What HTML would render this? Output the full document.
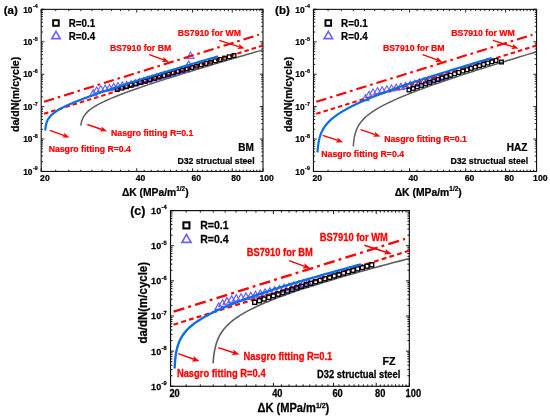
<!DOCTYPE html>
<html><head><meta charset="utf-8"><style>
html,body{margin:0;padding:0;background:#fff;}
svg{display:block;filter:blur(0.3px);}
text{font-family:'Liberation Sans',Arial,sans-serif;font-weight:bold;fill:#000;stroke:#000;stroke-width:0.22px;}
</style></head><body>
<svg width="550" height="417" viewBox="0 0 550 417">
<rect width="550" height="417" fill="#fff"/>
<g><rect x="41.2" y="9.37" width="221.80" height="162.08" fill="none" stroke="#111" stroke-width="1.1"/>
<path d="M41.2,171.45h3.2M263.0,171.45h-3.2M41.2,161.69h1.8M263.0,161.69h-1.8M41.2,155.98h1.8M263.0,155.98h-1.8M41.2,151.93h1.8M263.0,151.93h-1.8M41.2,148.79h1.8M263.0,148.79h-1.8M41.2,146.23h1.8M263.0,146.23h-1.8M41.2,144.06h1.8M263.0,144.06h-1.8M41.2,142.18h1.8M263.0,142.18h-1.8M41.2,140.52h1.8M263.0,140.52h-1.8M41.2,139.03h3.2M263.0,139.03h-3.2M41.2,129.28h1.8M263.0,129.28h-1.8M41.2,123.57h1.8M263.0,123.57h-1.8M41.2,119.52h1.8M263.0,119.52h-1.8M41.2,116.38h1.8M263.0,116.38h-1.8M41.2,113.81h1.8M263.0,113.81h-1.8M41.2,111.64h1.8M263.0,111.64h-1.8M41.2,109.76h1.8M263.0,109.76h-1.8M41.2,108.10h1.8M263.0,108.10h-1.8M41.2,106.62h3.2M263.0,106.62h-3.2M41.2,96.86h1.8M263.0,96.86h-1.8M41.2,91.15h1.8M263.0,91.15h-1.8M41.2,87.10h1.8M263.0,87.10h-1.8M41.2,83.96h1.8M263.0,83.96h-1.8M41.2,81.39h1.8M263.0,81.39h-1.8M41.2,79.22h1.8M263.0,79.22h-1.8M41.2,77.34h1.8M263.0,77.34h-1.8M41.2,75.69h1.8M263.0,75.69h-1.8M41.2,74.20h3.2M263.0,74.20h-3.2M41.2,64.44h1.8M263.0,64.44h-1.8M41.2,58.74h1.8M263.0,58.74h-1.8M41.2,54.69h1.8M263.0,54.69h-1.8M41.2,51.54h1.8M263.0,51.54h-1.8M41.2,48.98h1.8M263.0,48.98h-1.8M41.2,46.81h1.8M263.0,46.81h-1.8M41.2,44.93h1.8M263.0,44.93h-1.8M41.2,43.27h1.8M263.0,43.27h-1.8M41.2,41.79h3.2M263.0,41.79h-3.2M41.2,32.03h1.8M263.0,32.03h-1.8M41.2,26.32h1.8M263.0,26.32h-1.8M41.2,22.27h1.8M263.0,22.27h-1.8M41.2,19.13h1.8M263.0,19.13h-1.8M41.2,16.56h1.8M263.0,16.56h-1.8M41.2,14.39h1.8M263.0,14.39h-1.8M41.2,12.51h1.8M263.0,12.51h-1.8M41.2,10.85h1.8M263.0,10.85h-1.8M41.2,9.37h3.2M263.0,9.37h-3.2M41.2,9.37h3.2M263.0,9.37h-3.2M41.20,171.45v-3.2M41.20,9.37v3.2M55.72,171.45v-1.8M55.72,9.37v1.8M68.85,171.45v-1.8M68.85,9.37v1.8M80.85,171.45v-1.8M80.85,9.37v1.8M91.88,171.45v-1.8M91.88,9.37v1.8M102.09,171.45v-1.8M102.09,9.37v1.8M111.60,171.45v-1.8M111.60,9.37v1.8M120.49,171.45v-1.8M120.49,9.37v1.8M128.85,171.45v-1.8M128.85,9.37v1.8M136.72,171.45v-3.2M136.72,9.37v3.2M144.18,171.45v-1.8M144.18,9.37v1.8M151.24,171.45v-1.8M151.24,9.37v1.8M157.97,171.45v-1.8M157.97,9.37v1.8M164.38,171.45v-1.8M164.38,9.37v1.8M170.50,171.45v-1.8M170.50,9.37v1.8M176.37,171.45v-1.8M176.37,9.37v1.8M182.00,171.45v-1.8M182.00,9.37v1.8M187.40,171.45v-1.8M187.40,9.37v1.8M192.60,171.45v-3.2M192.60,9.37v3.2M197.61,171.45v-1.8M197.61,9.37v1.8M202.45,171.45v-1.8M202.45,9.37v1.8M207.12,171.45v-1.8M207.12,9.37v1.8M211.64,171.45v-1.8M211.64,9.37v1.8M216.02,171.45v-1.8M216.02,9.37v1.8M220.26,171.45v-1.8M220.26,9.37v1.8M224.37,171.45v-1.8M224.37,9.37v1.8M228.37,171.45v-1.8M228.37,9.37v1.8M232.25,171.45v-3.2M232.25,9.37v3.2M236.02,171.45v-1.8M236.02,9.37v1.8M239.70,171.45v-1.8M239.70,9.37v1.8M243.28,171.45v-1.8M243.28,9.37v1.8M246.77,171.45v-1.8M246.77,9.37v1.8M250.17,171.45v-1.8M250.17,9.37v1.8M253.49,171.45v-1.8M253.49,9.37v1.8M256.73,171.45v-1.8M256.73,9.37v1.8M259.90,171.45v-1.8M259.90,9.37v1.8M263.00,171.45v-3.2M263.00,9.37v3.2" stroke="#111" stroke-width="0.9" fill="none"/>
<text transform="translate(32.50,12.57) scale(1,1.09)" text-anchor="end" style="font-size:8.4px">10</text>
<text transform="translate(32.90,8.27) scale(1,1.09)" style="font-size:5.3px">-4</text>
<text transform="translate(32.50,44.99) scale(1,1.09)" text-anchor="end" style="font-size:8.4px">10</text>
<text transform="translate(32.90,40.69) scale(1,1.09)" style="font-size:5.3px">-5</text>
<text transform="translate(32.50,77.40) scale(1,1.09)" text-anchor="end" style="font-size:8.4px">10</text>
<text transform="translate(32.90,73.10) scale(1,1.09)" style="font-size:5.3px">-6</text>
<text transform="translate(32.50,109.82) scale(1,1.09)" text-anchor="end" style="font-size:8.4px">10</text>
<text transform="translate(32.90,105.52) scale(1,1.09)" style="font-size:5.3px">-7</text>
<text transform="translate(32.50,142.23) scale(1,1.09)" text-anchor="end" style="font-size:8.4px">10</text>
<text transform="translate(32.90,137.93) scale(1,1.09)" style="font-size:5.3px">-8</text>
<text transform="translate(32.50,174.65) scale(1,1.09)" text-anchor="end" style="font-size:8.4px">10</text>
<text transform="translate(32.90,170.35) scale(1,1.09)" style="font-size:5.3px">-9</text>
<text transform="translate(44.90,181.30) scale(1,1.09)" text-anchor="middle" style="font-size:8.6px">20</text>
<text transform="translate(140.42,181.30) scale(1,1.09)" text-anchor="middle" style="font-size:8.6px">40</text>
<text transform="translate(196.30,181.30) scale(1,1.09)" text-anchor="middle" style="font-size:8.6px">60</text>
<text transform="translate(235.95,181.30) scale(1,1.09)" text-anchor="middle" style="font-size:8.6px">80</text>
<text transform="translate(266.70,181.30) scale(1,1.09)" text-anchor="middle" style="font-size:8.6px">100</text>
<text transform="translate(155.30,195.50) scale(1,1.09)" text-anchor="middle" style="font-size:10.3px">&#916;K (MPa/m<tspan dy="-3.9" style="font-size:6.5px">1/2</tspan><tspan dy="3.9">)</tspan></text>
<text transform="translate(19.4,94.4) rotate(-90) scale(1,1.09)" text-anchor="middle" style="font-size:10.6px">da/dN(m/cycle)</text>
<text transform="translate(3.70,13.80) scale(1,1.0)" style="font-size:11.5px">(a)</text>
<rect x="53.15" y="20.20" width="5.6" height="5.6" fill="#fff" stroke="#000" stroke-width="1.9"/>
<text transform="translate(68.70,26.70) scale(1,1.09)" style="font-size:9.8px">R=0.1</text>
<path d="M56.00,31.35L60.20,38.62L51.80,38.62Z" fill="none" stroke="#6a62ff" stroke-width="1.6"/>
<text transform="translate(68.70,39.60) scale(1,1.09)" style="font-size:9.8px">R=0.4</text>
<path d="M80.80,125.54 L80.82,125.37 L80.89,124.89 L81.01,124.18 L81.17,123.31 L81.37,122.36 L81.63,121.38 L81.93,120.39 L82.27,119.42 L82.66,118.48 L83.10,117.56 L83.58,116.68 L84.11,115.82 L84.68,114.99 L85.30,114.18 L85.97,113.39 L86.68,112.62 L87.44,111.87 L88.24,111.13 L89.09,110.40 L89.99,109.69 L90.93,108.98 L91.91,108.28 L92.95,107.58 L94.03,106.89 L95.15,106.20 L96.32,105.52 L97.54,104.83 L98.80,104.15 L100.11,103.46 L101.47,102.78 L102.87,102.09 L104.32,101.40 L105.81,100.71 L107.35,100.02 L108.93,99.32 L110.56,98.62 L112.24,97.91 L113.96,97.20 L115.73,96.48 L117.54,95.76 L119.40,95.03 L121.31,94.30 L123.26,93.55 L125.26,92.81 L127.30,92.05 L129.39,91.29 L131.53,90.52 L133.71,89.74 L135.94,88.96 L138.21,88.17 L140.53,87.37 L142.90,86.56 L145.31,85.74 L147.76,84.91 L150.27,84.08 L152.82,83.24 L155.41,82.39 L158.05,81.53 L160.74,80.66 L163.47,79.78 L166.25,78.89 L169.07,77.99 L171.95,77.08 L174.86,76.17 L177.82,75.24 L180.83,74.30 L183.89,73.36 L186.99,72.40 L190.13,71.44 L193.32,70.46 L196.56,69.47 L199.85,68.48 L203.18,67.47 L206.55,66.46 L209.97,65.43 L213.44,64.39 L216.96,63.34 L220.51,62.28 L224.12,61.22 L227.77,60.14 L231.47,59.05 L235.21,57.94 L239.00,56.83 L242.84,55.71 L246.72,54.58 L250.64,53.43 L254.62,52.28 L258.64,51.11 L262.70,49.93" fill="none" stroke="#5e5e5e" stroke-width="1.5"/>
<path d="M93.30,89.66L96.80,95.72L89.80,95.72Z" fill="none" stroke="#6a62ff" stroke-width="1.15"/>
<path d="M96.75,86.94L100.25,93.01L93.25,93.01Z" fill="none" stroke="#6a62ff" stroke-width="1.15"/>
<path d="M100.77,85.58L104.27,91.64L97.27,91.64Z" fill="none" stroke="#6a62ff" stroke-width="1.15"/>
<path d="M105.13,85.13L108.63,91.19L101.63,91.19Z" fill="none" stroke="#6a62ff" stroke-width="1.15"/>
<path d="M109.45,84.51L112.95,90.57L105.95,90.57Z" fill="none" stroke="#6a62ff" stroke-width="1.15"/>
<path d="M113.68,83.35L117.18,89.41L110.18,89.41Z" fill="none" stroke="#6a62ff" stroke-width="1.15"/>
<path d="M117.96,82.44L121.46,88.51L114.46,88.51Z" fill="none" stroke="#6a62ff" stroke-width="1.15"/>
<path d="M122.32,81.91L125.82,87.97L118.82,87.97Z" fill="none" stroke="#6a62ff" stroke-width="1.15"/>
<path d="M126.66,81.31L130.16,87.37L123.16,87.37Z" fill="none" stroke="#6a62ff" stroke-width="1.15"/>
<path d="M130.99,80.57L134.49,86.63L127.49,86.63Z" fill="none" stroke="#6a62ff" stroke-width="1.15"/>
<path d="M135.27,79.64L138.77,85.70L131.77,85.70Z" fill="none" stroke="#6a62ff" stroke-width="1.15"/>
<path d="M139.50,78.47L143.00,84.53L136.00,84.53Z" fill="none" stroke="#6a62ff" stroke-width="1.15"/>
<path d="M143.72,77.29L147.22,83.35L140.22,83.35Z" fill="none" stroke="#6a62ff" stroke-width="1.15"/>
<path d="M147.95,76.12L151.45,82.18L144.45,82.18Z" fill="none" stroke="#6a62ff" stroke-width="1.15"/>
<path d="M152.18,74.95L155.68,81.01L148.68,81.01Z" fill="none" stroke="#6a62ff" stroke-width="1.15"/>
<path d="M156.41,73.77L159.91,79.83L152.91,79.83Z" fill="none" stroke="#6a62ff" stroke-width="1.15"/>
<path d="M160.63,72.60L164.13,78.66L157.13,78.66Z" fill="none" stroke="#6a62ff" stroke-width="1.15"/>
<path d="M164.86,71.43L168.36,77.49L161.36,77.49Z" fill="none" stroke="#6a62ff" stroke-width="1.15"/>
<path d="M169.09,70.25L172.59,76.31L165.59,76.31Z" fill="none" stroke="#6a62ff" stroke-width="1.15"/>
<path d="M173.32,69.08L176.82,75.14L169.82,75.14Z" fill="none" stroke="#6a62ff" stroke-width="1.15"/>
<path d="M177.54,67.91L181.04,73.97L174.04,73.97Z" fill="none" stroke="#6a62ff" stroke-width="1.15"/>
<path d="M181.77,66.73L185.27,72.79L178.27,72.79Z" fill="none" stroke="#6a62ff" stroke-width="1.15"/>
<path d="M186.00,65.56L189.50,71.62L182.50,71.62Z" fill="none" stroke="#6a62ff" stroke-width="1.15"/>
<path d="M190.50,52.26L194.00,58.32L187.00,58.32Z" fill="none" stroke="#6a62ff" stroke-width="1.15"/>
<path d="M188.70,60.96L192.20,67.02L185.20,67.02Z" fill="none" stroke="#6a62ff" stroke-width="1.15"/>
<path d="M44,113.8L262.7,45.6" stroke="#f00" stroke-width="2.0" fill="none" stroke-dasharray="4.5 3"/>
<rect x="115.25" y="87.61" width="3.7" height="3.7" fill="none" stroke="#000" stroke-width="1.3"/>
<rect x="119.93" y="86.21" width="3.7" height="3.7" fill="none" stroke="#000" stroke-width="1.3"/>
<rect x="124.60" y="84.82" width="3.7" height="3.7" fill="none" stroke="#000" stroke-width="1.3"/>
<rect x="129.28" y="83.43" width="3.7" height="3.7" fill="none" stroke="#000" stroke-width="1.3"/>
<rect x="133.95" y="82.05" width="3.7" height="3.7" fill="none" stroke="#000" stroke-width="1.3"/>
<rect x="138.63" y="80.66" width="3.7" height="3.7" fill="none" stroke="#000" stroke-width="1.3"/>
<rect x="143.31" y="79.28" width="3.7" height="3.7" fill="none" stroke="#000" stroke-width="1.3"/>
<rect x="147.98" y="77.90" width="3.7" height="3.7" fill="none" stroke="#000" stroke-width="1.3"/>
<rect x="152.66" y="76.53" width="3.7" height="3.7" fill="none" stroke="#000" stroke-width="1.3"/>
<rect x="157.33" y="75.16" width="3.7" height="3.7" fill="none" stroke="#000" stroke-width="1.3"/>
<rect x="162.01" y="73.79" width="3.7" height="3.7" fill="none" stroke="#000" stroke-width="1.3"/>
<rect x="166.69" y="72.43" width="3.7" height="3.7" fill="none" stroke="#000" stroke-width="1.3"/>
<rect x="171.36" y="71.06" width="3.7" height="3.7" fill="none" stroke="#000" stroke-width="1.3"/>
<rect x="176.04" y="69.70" width="3.7" height="3.7" fill="none" stroke="#000" stroke-width="1.3"/>
<rect x="180.71" y="68.35" width="3.7" height="3.7" fill="none" stroke="#000" stroke-width="1.3"/>
<rect x="185.39" y="67.00" width="3.7" height="3.7" fill="none" stroke="#000" stroke-width="1.3"/>
<rect x="190.07" y="65.65" width="3.7" height="3.7" fill="none" stroke="#000" stroke-width="1.3"/>
<rect x="194.74" y="64.30" width="3.7" height="3.7" fill="none" stroke="#000" stroke-width="1.3"/>
<rect x="199.42" y="62.95" width="3.7" height="3.7" fill="none" stroke="#000" stroke-width="1.3"/>
<rect x="204.09" y="61.61" width="3.7" height="3.7" fill="none" stroke="#000" stroke-width="1.3"/>
<rect x="208.77" y="60.27" width="3.7" height="3.7" fill="none" stroke="#000" stroke-width="1.3"/>
<rect x="213.45" y="58.94" width="3.7" height="3.7" fill="none" stroke="#000" stroke-width="1.3"/>
<rect x="218.12" y="57.61" width="3.7" height="3.7" fill="none" stroke="#000" stroke-width="1.3"/>
<rect x="222.80" y="56.28" width="3.7" height="3.7" fill="none" stroke="#000" stroke-width="1.3"/>
<rect x="227.47" y="54.95" width="3.7" height="3.7" fill="none" stroke="#000" stroke-width="1.3"/>
<rect x="232.15" y="53.63" width="3.7" height="3.7" fill="none" stroke="#000" stroke-width="1.3"/>
<path d="M45.30,130.45 L45.32,130.13 L45.39,129.27 L45.50,128.12 L45.65,126.86 L45.85,125.62 L46.08,124.44 L46.37,123.32 L46.70,122.28 L47.07,121.30 L47.48,120.37 L47.94,119.49 L48.44,118.66 L48.98,117.86 L49.57,117.09 L50.21,116.34 L50.88,115.62 L51.60,114.92 L52.36,114.23 L53.17,113.55 L54.02,112.89 L54.92,112.23 L55.85,111.58 L56.83,110.94 L57.86,110.30 L58.93,109.66 L60.04,109.03 L61.19,108.39 L62.39,107.76 L63.64,107.12 L64.92,106.49 L66.25,105.85 L67.63,105.21 L69.04,104.57 L70.50,103.92 L72.01,103.27 L73.56,102.61 L75.15,101.95 L76.78,101.28 L78.46,100.61 L80.18,99.94 L81.95,99.25 L83.76,98.56 L85.61,97.87 L87.51,97.16 L89.45,96.45 L91.43,95.74 L93.46,95.01 L95.53,94.28 L97.65,93.54 L99.81,92.79 L102.01,92.03 L104.25,91.27 L106.54,90.50 L108.88,89.72 L111.25,88.93 L113.67,88.13 L116.14,87.32 L118.64,86.50 L121.20,85.68 L123.79,84.84 L126.43,84.00 L129.11,83.15 L131.84,82.28 L134.60,81.41 L137.42,80.53 L140.27,79.64 L143.17,78.74 L146.12,77.83 L149.10,76.91 L152.13,75.98 L155.21,75.04 L158.33,74.09 L161.49,73.13 L164.69,72.16 L167.94,71.18 L171.23,70.19 L174.57,69.19 L177.95,68.18 L181.37,67.16 L184.84,66.13 L188.35,65.08 L191.90,64.03 L195.50,62.97 L199.14,61.89 L202.83,60.81 L206.55,59.72 L210.33,58.61 L214.14,57.50 L218.00,56.37" fill="none" stroke="#0a6ee6" stroke-width="2.2"/>
<path d="M44,101.8L259,34.7" stroke="#f00" stroke-width="2.1" fill="none" stroke-dasharray="10.4 3.9 2.6 4.0"/>
<text transform="translate(109.90,50.80) scale(1,1.09)" style="font-size:8.7px;fill:#f00;stroke:#f00">BS7910 for BM</text>
<text transform="translate(177.80,36.40) scale(1,1.09)" style="font-size:8.7px;fill:#f00;stroke:#f00">BS7910 for WM</text>
<path d="M149.30,54.60L163.84,59.91" stroke="#f00" stroke-width="1.4" fill="none"/><path d="M168.95,61.77L161.67,61.88L163.84,59.91L163.46,57.00Z" fill="#f00"/>
<path d="M219.20,40.40L239.48,46.89" stroke="#f00" stroke-width="1.4" fill="none"/><path d="M244.66,48.54L237.39,48.95L239.48,46.89L238.98,44.00Z" fill="#f00"/>
<text transform="translate(48.70,152.30) scale(1,1.09)" style="font-size:8.7px;fill:#f00;stroke:#f00">Nasgro fitting R=0.4</text>
<text transform="translate(111.10,136.00) scale(1,1.09)" style="font-size:8.7px;fill:#f00;stroke:#f00">Nasgro fitting R=0.1</text>
<path d="M49.80,130.30L64.44,135.62" stroke="#f00" stroke-width="1.4" fill="none"/><path d="M69.55,137.47L62.27,137.60L64.44,135.62L64.05,132.71Z" fill="#f00"/>
<path d="M87.30,124.50L101.91,129.50" stroke="#f00" stroke-width="1.4" fill="none"/><path d="M107.06,131.26L99.78,131.52L101.91,129.50L101.46,126.60Z" fill="#f00"/>
<text transform="translate(253.80,151.40) scale(1,1.0)" text-anchor="end" style="font-size:10px">BM</text>
<text transform="translate(254.60,164.00) scale(1,1.09)" text-anchor="end" style="font-size:8.7px">D32 structual steel</text></g>
<g transform="translate(272.01,0) scale(1.0059,1)"><rect x="41.2" y="9.37" width="221.80" height="162.08" fill="none" stroke="#111" stroke-width="1.1"/>
<path d="M41.2,171.45h3.2M263.0,171.45h-3.2M41.2,161.69h1.8M263.0,161.69h-1.8M41.2,155.98h1.8M263.0,155.98h-1.8M41.2,151.93h1.8M263.0,151.93h-1.8M41.2,148.79h1.8M263.0,148.79h-1.8M41.2,146.23h1.8M263.0,146.23h-1.8M41.2,144.06h1.8M263.0,144.06h-1.8M41.2,142.18h1.8M263.0,142.18h-1.8M41.2,140.52h1.8M263.0,140.52h-1.8M41.2,139.03h3.2M263.0,139.03h-3.2M41.2,129.28h1.8M263.0,129.28h-1.8M41.2,123.57h1.8M263.0,123.57h-1.8M41.2,119.52h1.8M263.0,119.52h-1.8M41.2,116.38h1.8M263.0,116.38h-1.8M41.2,113.81h1.8M263.0,113.81h-1.8M41.2,111.64h1.8M263.0,111.64h-1.8M41.2,109.76h1.8M263.0,109.76h-1.8M41.2,108.10h1.8M263.0,108.10h-1.8M41.2,106.62h3.2M263.0,106.62h-3.2M41.2,96.86h1.8M263.0,96.86h-1.8M41.2,91.15h1.8M263.0,91.15h-1.8M41.2,87.10h1.8M263.0,87.10h-1.8M41.2,83.96h1.8M263.0,83.96h-1.8M41.2,81.39h1.8M263.0,81.39h-1.8M41.2,79.22h1.8M263.0,79.22h-1.8M41.2,77.34h1.8M263.0,77.34h-1.8M41.2,75.69h1.8M263.0,75.69h-1.8M41.2,74.20h3.2M263.0,74.20h-3.2M41.2,64.44h1.8M263.0,64.44h-1.8M41.2,58.74h1.8M263.0,58.74h-1.8M41.2,54.69h1.8M263.0,54.69h-1.8M41.2,51.54h1.8M263.0,51.54h-1.8M41.2,48.98h1.8M263.0,48.98h-1.8M41.2,46.81h1.8M263.0,46.81h-1.8M41.2,44.93h1.8M263.0,44.93h-1.8M41.2,43.27h1.8M263.0,43.27h-1.8M41.2,41.79h3.2M263.0,41.79h-3.2M41.2,32.03h1.8M263.0,32.03h-1.8M41.2,26.32h1.8M263.0,26.32h-1.8M41.2,22.27h1.8M263.0,22.27h-1.8M41.2,19.13h1.8M263.0,19.13h-1.8M41.2,16.56h1.8M263.0,16.56h-1.8M41.2,14.39h1.8M263.0,14.39h-1.8M41.2,12.51h1.8M263.0,12.51h-1.8M41.2,10.85h1.8M263.0,10.85h-1.8M41.2,9.37h3.2M263.0,9.37h-3.2M41.2,9.37h3.2M263.0,9.37h-3.2M41.20,171.45v-3.2M41.20,9.37v3.2M55.72,171.45v-1.8M55.72,9.37v1.8M68.85,171.45v-1.8M68.85,9.37v1.8M80.85,171.45v-1.8M80.85,9.37v1.8M91.88,171.45v-1.8M91.88,9.37v1.8M102.09,171.45v-1.8M102.09,9.37v1.8M111.60,171.45v-1.8M111.60,9.37v1.8M120.49,171.45v-1.8M120.49,9.37v1.8M128.85,171.45v-1.8M128.85,9.37v1.8M136.72,171.45v-3.2M136.72,9.37v3.2M144.18,171.45v-1.8M144.18,9.37v1.8M151.24,171.45v-1.8M151.24,9.37v1.8M157.97,171.45v-1.8M157.97,9.37v1.8M164.38,171.45v-1.8M164.38,9.37v1.8M170.50,171.45v-1.8M170.50,9.37v1.8M176.37,171.45v-1.8M176.37,9.37v1.8M182.00,171.45v-1.8M182.00,9.37v1.8M187.40,171.45v-1.8M187.40,9.37v1.8M192.60,171.45v-3.2M192.60,9.37v3.2M197.61,171.45v-1.8M197.61,9.37v1.8M202.45,171.45v-1.8M202.45,9.37v1.8M207.12,171.45v-1.8M207.12,9.37v1.8M211.64,171.45v-1.8M211.64,9.37v1.8M216.02,171.45v-1.8M216.02,9.37v1.8M220.26,171.45v-1.8M220.26,9.37v1.8M224.37,171.45v-1.8M224.37,9.37v1.8M228.37,171.45v-1.8M228.37,9.37v1.8M232.25,171.45v-3.2M232.25,9.37v3.2M236.02,171.45v-1.8M236.02,9.37v1.8M239.70,171.45v-1.8M239.70,9.37v1.8M243.28,171.45v-1.8M243.28,9.37v1.8M246.77,171.45v-1.8M246.77,9.37v1.8M250.17,171.45v-1.8M250.17,9.37v1.8M253.49,171.45v-1.8M253.49,9.37v1.8M256.73,171.45v-1.8M256.73,9.37v1.8M259.90,171.45v-1.8M259.90,9.37v1.8M263.00,171.45v-3.2M263.00,9.37v3.2" stroke="#111" stroke-width="0.9" fill="none"/>
<text transform="translate(32.50,12.57) scale(1,1.09)" text-anchor="end" style="font-size:8.4px">10</text>
<text transform="translate(32.90,8.27) scale(1,1.09)" style="font-size:5.3px">-4</text>
<text transform="translate(32.50,44.99) scale(1,1.09)" text-anchor="end" style="font-size:8.4px">10</text>
<text transform="translate(32.90,40.69) scale(1,1.09)" style="font-size:5.3px">-5</text>
<text transform="translate(32.50,77.40) scale(1,1.09)" text-anchor="end" style="font-size:8.4px">10</text>
<text transform="translate(32.90,73.10) scale(1,1.09)" style="font-size:5.3px">-6</text>
<text transform="translate(32.50,109.82) scale(1,1.09)" text-anchor="end" style="font-size:8.4px">10</text>
<text transform="translate(32.90,105.52) scale(1,1.09)" style="font-size:5.3px">-7</text>
<text transform="translate(32.50,142.23) scale(1,1.09)" text-anchor="end" style="font-size:8.4px">10</text>
<text transform="translate(32.90,137.93) scale(1,1.09)" style="font-size:5.3px">-8</text>
<text transform="translate(32.50,174.65) scale(1,1.09)" text-anchor="end" style="font-size:8.4px">10</text>
<text transform="translate(32.90,170.35) scale(1,1.09)" style="font-size:5.3px">-9</text>
<text transform="translate(44.90,181.30) scale(1,1.09)" text-anchor="middle" style="font-size:8.6px">20</text>
<text transform="translate(140.42,181.30) scale(1,1.09)" text-anchor="middle" style="font-size:8.6px">40</text>
<text transform="translate(196.30,181.30) scale(1,1.09)" text-anchor="middle" style="font-size:8.6px">60</text>
<text transform="translate(235.95,181.30) scale(1,1.09)" text-anchor="middle" style="font-size:8.6px">80</text>
<text transform="translate(266.70,181.30) scale(1,1.09)" text-anchor="middle" style="font-size:8.6px">100</text>
<text transform="translate(155.30,195.50) scale(1,1.09)" text-anchor="middle" style="font-size:10.3px">&#916;K (MPa/m<tspan dy="-3.9" style="font-size:6.5px">1/2</tspan><tspan dy="3.9">)</tspan></text>
<text transform="translate(19.4,94.4) rotate(-90) scale(1,1.09)" text-anchor="middle" style="font-size:10.6px">da/dN(m/cycle)</text>
<text transform="translate(3.07,13.80) scale(1,1.0)" style="font-size:11.5px">(b)</text>
<rect x="53.15" y="20.20" width="5.6" height="5.6" fill="#fff" stroke="#000" stroke-width="1.9"/>
<text transform="translate(68.70,26.70) scale(1,1.09)" style="font-size:9.8px">R=0.1</text>
<path d="M56.00,31.35L60.20,38.62L51.80,38.62Z" fill="none" stroke="#6a62ff" stroke-width="1.6"/>
<text transform="translate(68.70,39.60) scale(1,1.09)" style="font-size:9.8px">R=0.4</text>
<path d="M80.81,146.44 L80.84,146.10 L80.90,145.16 L81.02,143.78 L81.18,142.15 L81.39,140.42 L81.64,138.67 L81.94,136.96 L82.28,135.31 L82.67,133.73 L83.11,132.22 L83.59,130.79 L84.12,129.42 L84.69,128.11 L85.31,126.85 L85.97,125.64 L86.68,124.47 L87.44,123.35 L88.24,122.25 L89.09,121.19 L89.99,120.15 L90.93,119.14 L91.91,118.15 L92.94,117.17 L94.02,116.21 L95.14,115.27 L96.31,114.34 L97.53,113.42 L98.79,112.51 L100.10,111.61 L101.45,110.72 L102.85,109.83 L104.29,108.94 L105.78,108.06 L107.32,107.19 L108.90,106.31 L110.53,105.44 L112.20,104.57 L113.92,103.69 L115.69,102.82 L117.50,101.95 L119.36,101.07 L121.26,100.19 L123.21,99.31 L125.21,98.43 L127.25,97.55 L129.33,96.66 L131.47,95.76 L133.64,94.87 L135.87,93.96 L138.14,93.06 L140.45,92.15 L142.82,91.23 L145.22,90.31 L147.68,89.38 L150.18,88.44 L152.72,87.50 L155.31,86.56 L157.95,85.60 L160.63,84.64 L163.36,83.67 L166.14,82.70 L168.96,81.71 L171.82,80.73 L174.73,79.73 L177.69,78.72 L180.70,77.71 L183.75,76.69 L186.84,75.66 L189.98,74.62 L193.17,73.57 L196.40,72.52 L199.68,71.46 L203.01,70.38 L206.38,69.30 L209.79,68.21 L213.26,67.11 L216.77,66.00 L220.32,64.89 L223.92,63.76 L227.57,62.62 L231.26,61.48 L234.99,60.32 L238.78,59.16 L242.61,57.98 L246.48,56.80 L250.40,55.61 L254.37,54.40 L258.38,53.19 L262.44,51.96" fill="none" stroke="#5e5e5e" stroke-width="1.5"/>
<path d="M92.94,94.56L96.44,100.62L89.44,100.62Z" fill="none" stroke="#6a62ff" stroke-width="1.15"/>
<path d="M96.45,91.39L99.95,97.46L92.95,97.46Z" fill="none" stroke="#6a62ff" stroke-width="1.15"/>
<path d="M100.44,88.97L103.94,95.04L96.94,95.04Z" fill="none" stroke="#6a62ff" stroke-width="1.15"/>
<path d="M104.90,87.55L108.40,93.61L101.40,93.61Z" fill="none" stroke="#6a62ff" stroke-width="1.15"/>
<path d="M109.55,86.69L113.05,92.75L106.05,92.75Z" fill="none" stroke="#6a62ff" stroke-width="1.15"/>
<path d="M114.19,85.83L117.69,91.89L110.69,91.89Z" fill="none" stroke="#6a62ff" stroke-width="1.15"/>
<path d="M118.83,84.97L122.33,91.04L115.33,91.04Z" fill="none" stroke="#6a62ff" stroke-width="1.15"/>
<path d="M123.48,84.12L126.98,90.18L119.98,90.18Z" fill="none" stroke="#6a62ff" stroke-width="1.15"/>
<path d="M128.12,83.26L131.62,89.32L124.62,89.32Z" fill="none" stroke="#6a62ff" stroke-width="1.15"/>
<path d="M132.75,82.35L136.25,88.41L129.25,88.41Z" fill="none" stroke="#6a62ff" stroke-width="1.15"/>
<path d="M137.33,81.19L140.83,87.25L133.83,87.25Z" fill="none" stroke="#6a62ff" stroke-width="1.15"/>
<path d="M141.91,80.04L145.41,86.10L138.41,86.10Z" fill="none" stroke="#6a62ff" stroke-width="1.15"/>
<path d="M146.49,78.88L149.99,84.95L142.99,84.95Z" fill="none" stroke="#6a62ff" stroke-width="1.15"/>
<path d="M151.07,77.73L154.57,83.79L147.57,83.79Z" fill="none" stroke="#6a62ff" stroke-width="1.15"/>
<path d="M155.65,76.58L159.15,82.64L152.15,82.64Z" fill="none" stroke="#6a62ff" stroke-width="1.15"/>
<path d="M160.23,75.42L163.73,81.48L156.73,81.48Z" fill="none" stroke="#6a62ff" stroke-width="1.15"/>
<path d="M164.81,74.27L168.31,80.33L161.31,80.33Z" fill="none" stroke="#6a62ff" stroke-width="1.15"/>
<path d="M169.38,73.11L172.88,79.17L165.88,79.17Z" fill="none" stroke="#6a62ff" stroke-width="1.15"/>
<path d="M173.96,71.96L177.46,78.02L170.46,78.02Z" fill="none" stroke="#6a62ff" stroke-width="1.15"/>
<path d="M44,113.8L262.7,45.6" stroke="#f00" stroke-width="2.0" fill="none" stroke-dasharray="4.5 3"/>
<rect x="134.34" y="88.08" width="3.7" height="3.7" fill="none" stroke="#000" stroke-width="1.3"/>
<rect x="138.46" y="86.56" width="3.7" height="3.7" fill="none" stroke="#000" stroke-width="1.3"/>
<rect x="142.57" y="85.05" width="3.7" height="3.7" fill="none" stroke="#000" stroke-width="1.3"/>
<rect x="146.69" y="83.55" width="3.7" height="3.7" fill="none" stroke="#000" stroke-width="1.3"/>
<rect x="150.81" y="82.07" width="3.7" height="3.7" fill="none" stroke="#000" stroke-width="1.3"/>
<rect x="154.93" y="80.59" width="3.7" height="3.7" fill="none" stroke="#000" stroke-width="1.3"/>
<rect x="159.05" y="79.13" width="3.7" height="3.7" fill="none" stroke="#000" stroke-width="1.3"/>
<rect x="163.17" y="77.68" width="3.7" height="3.7" fill="none" stroke="#000" stroke-width="1.3"/>
<rect x="167.28" y="76.24" width="3.7" height="3.7" fill="none" stroke="#000" stroke-width="1.3"/>
<rect x="171.40" y="74.82" width="3.7" height="3.7" fill="none" stroke="#000" stroke-width="1.3"/>
<rect x="175.52" y="73.40" width="3.7" height="3.7" fill="none" stroke="#000" stroke-width="1.3"/>
<rect x="179.64" y="72.00" width="3.7" height="3.7" fill="none" stroke="#000" stroke-width="1.3"/>
<rect x="183.76" y="70.61" width="3.7" height="3.7" fill="none" stroke="#000" stroke-width="1.3"/>
<rect x="187.88" y="69.23" width="3.7" height="3.7" fill="none" stroke="#000" stroke-width="1.3"/>
<rect x="192.00" y="67.86" width="3.7" height="3.7" fill="none" stroke="#000" stroke-width="1.3"/>
<rect x="196.11" y="66.51" width="3.7" height="3.7" fill="none" stroke="#000" stroke-width="1.3"/>
<rect x="200.23" y="65.17" width="3.7" height="3.7" fill="none" stroke="#000" stroke-width="1.3"/>
<rect x="204.35" y="63.83" width="3.7" height="3.7" fill="none" stroke="#000" stroke-width="1.3"/>
<rect x="208.47" y="62.52" width="3.7" height="3.7" fill="none" stroke="#000" stroke-width="1.3"/>
<rect x="212.59" y="61.21" width="3.7" height="3.7" fill="none" stroke="#000" stroke-width="1.3"/>
<rect x="216.71" y="59.91" width="3.7" height="3.7" fill="none" stroke="#000" stroke-width="1.3"/>
<rect x="220.83" y="58.63" width="3.7" height="3.7" fill="none" stroke="#000" stroke-width="1.3"/>
<rect x="226.29" y="60.15" width="3.7" height="3.7" fill="none" stroke="#000" stroke-width="1.3"/>
<path d="M45.22,152.45 L45.25,152.11 L45.31,151.14 L45.42,149.71 L45.57,148.02 L45.77,146.19 L46.01,144.34 L46.30,142.51 L46.62,140.75 L47.00,139.06 L47.41,137.44 L47.87,135.90 L48.37,134.43 L48.92,133.02 L49.51,131.67 L50.15,130.38 L50.82,129.13 L51.55,127.93 L52.31,126.76 L53.12,125.64 L53.97,124.54 L54.87,123.47 L55.81,122.42 L56.80,121.40 L57.82,120.40 L58.90,119.42 L60.01,118.45 L61.17,117.50 L62.37,116.55 L63.62,115.63 L64.91,114.71 L66.25,113.79 L67.62,112.89 L69.05,112.00 L70.51,111.10 L72.02,110.22 L73.57,109.34 L75.17,108.46 L76.81,107.58 L78.50,106.71 L80.22,105.83 L82.00,104.96 L83.81,104.09 L85.67,103.21 L87.57,102.34 L89.52,101.47 L91.51,100.59 L93.55,99.71 L95.62,98.83 L97.75,97.95 L99.91,97.06 L102.12,96.17 L104.38,95.28 L106.67,94.38 L109.01,93.48 L111.40,92.58 L113.83,91.67 L116.30,90.75 L118.81,89.83 L121.37,88.91 L123.98,87.98 L126.62,87.04 L129.31,86.10 L132.05,85.15 L134.83,84.20 L137.65,83.24 L140.51,82.27 L143.42,81.30 L146.38,80.32 L149.37,79.33 L152.41,78.34 L155.50,77.34 L158.63,76.33 L161.80,75.32 L165.01,74.30 L168.27,73.27 L171.58,72.23 L174.92,71.19 L178.32,70.13 L181.75,69.07 L185.23,68.01 L188.75,66.93 L192.32,65.84 L195.93,64.75 L199.58,63.65 L203.28,62.54 L207.02,61.42 L210.80,60.30 L214.63,59.16 L218.50,58.02" fill="none" stroke="#0a6ee6" stroke-width="2.2"/>
<path d="M44,101.8L259,34.7" stroke="#f00" stroke-width="2.1" fill="none" stroke-dasharray="10.4 3.9 2.6 4.0"/>
<text transform="translate(110.30,50.80) scale(1,1.09)" style="font-size:8.7px;fill:#f00;stroke:#f00">BS7910 for BM</text>
<text transform="translate(178.20,36.40) scale(1,1.09)" style="font-size:8.7px;fill:#f00;stroke:#f00">BS7910 for WM</text>
<path d="M149.70,54.60L164.24,59.91" stroke="#f00" stroke-width="1.4" fill="none"/><path d="M169.35,61.77L162.07,61.88L164.24,59.91L163.86,57.00Z" fill="#f00"/>
<path d="M219.60,40.40L239.88,46.89" stroke="#f00" stroke-width="1.4" fill="none"/><path d="M245.06,48.54L237.79,48.95L239.88,46.89L239.38,44.00Z" fill="#f00"/>
<text transform="translate(49.00,157.30) scale(1,1.09)" style="font-size:8.7px;fill:#f00;stroke:#f00">Nasgro fitting R=0.4</text>
<text transform="translate(111.53,142.00) scale(1,1.09)" style="font-size:8.7px;fill:#f00;stroke:#f00">Nasgro fitting R=0.1</text>
<path d="M50.39,135.30L65.48,140.41" stroke="#f00" stroke-width="1.4" fill="none"/><path d="M70.64,142.16L63.36,142.44L65.48,140.41L65.03,137.51Z" fill="#f00"/>
<path d="M88.07,129.60L102.68,134.68" stroke="#f00" stroke-width="1.4" fill="none"/><path d="M107.81,136.46L100.54,136.69L102.68,134.68L102.24,131.77Z" fill="#f00"/>
<text transform="translate(253.80,151.40) scale(1,1.0)" text-anchor="end" style="font-size:10px">HAZ</text>
<text transform="translate(254.60,164.00) scale(1,1.09)" text-anchor="end" style="font-size:8.7px">D32 structual steel</text></g>
<g transform="translate(126.19,200.44) scale(1.0766,1.084)"><rect x="41.2" y="9.37" width="221.80" height="162.08" fill="none" stroke="#111" stroke-width="1.1"/>
<path d="M41.2,171.45h3.2M263.0,171.45h-3.2M41.2,161.69h1.8M263.0,161.69h-1.8M41.2,155.98h1.8M263.0,155.98h-1.8M41.2,151.93h1.8M263.0,151.93h-1.8M41.2,148.79h1.8M263.0,148.79h-1.8M41.2,146.23h1.8M263.0,146.23h-1.8M41.2,144.06h1.8M263.0,144.06h-1.8M41.2,142.18h1.8M263.0,142.18h-1.8M41.2,140.52h1.8M263.0,140.52h-1.8M41.2,139.03h3.2M263.0,139.03h-3.2M41.2,129.28h1.8M263.0,129.28h-1.8M41.2,123.57h1.8M263.0,123.57h-1.8M41.2,119.52h1.8M263.0,119.52h-1.8M41.2,116.38h1.8M263.0,116.38h-1.8M41.2,113.81h1.8M263.0,113.81h-1.8M41.2,111.64h1.8M263.0,111.64h-1.8M41.2,109.76h1.8M263.0,109.76h-1.8M41.2,108.10h1.8M263.0,108.10h-1.8M41.2,106.62h3.2M263.0,106.62h-3.2M41.2,96.86h1.8M263.0,96.86h-1.8M41.2,91.15h1.8M263.0,91.15h-1.8M41.2,87.10h1.8M263.0,87.10h-1.8M41.2,83.96h1.8M263.0,83.96h-1.8M41.2,81.39h1.8M263.0,81.39h-1.8M41.2,79.22h1.8M263.0,79.22h-1.8M41.2,77.34h1.8M263.0,77.34h-1.8M41.2,75.69h1.8M263.0,75.69h-1.8M41.2,74.20h3.2M263.0,74.20h-3.2M41.2,64.44h1.8M263.0,64.44h-1.8M41.2,58.74h1.8M263.0,58.74h-1.8M41.2,54.69h1.8M263.0,54.69h-1.8M41.2,51.54h1.8M263.0,51.54h-1.8M41.2,48.98h1.8M263.0,48.98h-1.8M41.2,46.81h1.8M263.0,46.81h-1.8M41.2,44.93h1.8M263.0,44.93h-1.8M41.2,43.27h1.8M263.0,43.27h-1.8M41.2,41.79h3.2M263.0,41.79h-3.2M41.2,32.03h1.8M263.0,32.03h-1.8M41.2,26.32h1.8M263.0,26.32h-1.8M41.2,22.27h1.8M263.0,22.27h-1.8M41.2,19.13h1.8M263.0,19.13h-1.8M41.2,16.56h1.8M263.0,16.56h-1.8M41.2,14.39h1.8M263.0,14.39h-1.8M41.2,12.51h1.8M263.0,12.51h-1.8M41.2,10.85h1.8M263.0,10.85h-1.8M41.2,9.37h3.2M263.0,9.37h-3.2M41.2,9.37h3.2M263.0,9.37h-3.2M41.20,171.45v-3.2M41.20,9.37v3.2M55.72,171.45v-1.8M55.72,9.37v1.8M68.85,171.45v-1.8M68.85,9.37v1.8M80.85,171.45v-1.8M80.85,9.37v1.8M91.88,171.45v-1.8M91.88,9.37v1.8M102.09,171.45v-1.8M102.09,9.37v1.8M111.60,171.45v-1.8M111.60,9.37v1.8M120.49,171.45v-1.8M120.49,9.37v1.8M128.85,171.45v-1.8M128.85,9.37v1.8M136.72,171.45v-3.2M136.72,9.37v3.2M144.18,171.45v-1.8M144.18,9.37v1.8M151.24,171.45v-1.8M151.24,9.37v1.8M157.97,171.45v-1.8M157.97,9.37v1.8M164.38,171.45v-1.8M164.38,9.37v1.8M170.50,171.45v-1.8M170.50,9.37v1.8M176.37,171.45v-1.8M176.37,9.37v1.8M182.00,171.45v-1.8M182.00,9.37v1.8M187.40,171.45v-1.8M187.40,9.37v1.8M192.60,171.45v-3.2M192.60,9.37v3.2M197.61,171.45v-1.8M197.61,9.37v1.8M202.45,171.45v-1.8M202.45,9.37v1.8M207.12,171.45v-1.8M207.12,9.37v1.8M211.64,171.45v-1.8M211.64,9.37v1.8M216.02,171.45v-1.8M216.02,9.37v1.8M220.26,171.45v-1.8M220.26,9.37v1.8M224.37,171.45v-1.8M224.37,9.37v1.8M228.37,171.45v-1.8M228.37,9.37v1.8M232.25,171.45v-3.2M232.25,9.37v3.2M236.02,171.45v-1.8M236.02,9.37v1.8M239.70,171.45v-1.8M239.70,9.37v1.8M243.28,171.45v-1.8M243.28,9.37v1.8M246.77,171.45v-1.8M246.77,9.37v1.8M250.17,171.45v-1.8M250.17,9.37v1.8M253.49,171.45v-1.8M253.49,9.37v1.8M256.73,171.45v-1.8M256.73,9.37v1.8M259.90,171.45v-1.8M259.90,9.37v1.8M263.00,171.45v-3.2M263.00,9.37v3.2" stroke="#111" stroke-width="0.9" fill="none"/>
<text transform="translate(32.50,12.57) scale(1,1.09)" text-anchor="end" style="font-size:8.4px">10</text>
<text transform="translate(32.90,8.27) scale(1,1.09)" style="font-size:5.3px">-4</text>
<text transform="translate(32.50,44.99) scale(1,1.09)" text-anchor="end" style="font-size:8.4px">10</text>
<text transform="translate(32.90,40.69) scale(1,1.09)" style="font-size:5.3px">-5</text>
<text transform="translate(32.50,77.40) scale(1,1.09)" text-anchor="end" style="font-size:8.4px">10</text>
<text transform="translate(32.90,73.10) scale(1,1.09)" style="font-size:5.3px">-6</text>
<text transform="translate(32.50,109.82) scale(1,1.09)" text-anchor="end" style="font-size:8.4px">10</text>
<text transform="translate(32.90,105.52) scale(1,1.09)" style="font-size:5.3px">-7</text>
<text transform="translate(32.50,142.23) scale(1,1.09)" text-anchor="end" style="font-size:8.4px">10</text>
<text transform="translate(32.90,137.93) scale(1,1.09)" style="font-size:5.3px">-8</text>
<text transform="translate(32.50,174.65) scale(1,1.09)" text-anchor="end" style="font-size:8.4px">10</text>
<text transform="translate(32.90,170.35) scale(1,1.09)" style="font-size:5.3px">-9</text>
<text transform="translate(44.90,181.30) scale(1,1.09)" text-anchor="middle" style="font-size:8.6px">20</text>
<text transform="translate(140.42,181.30) scale(1,1.09)" text-anchor="middle" style="font-size:8.6px">40</text>
<text transform="translate(196.30,181.30) scale(1,1.09)" text-anchor="middle" style="font-size:8.6px">60</text>
<text transform="translate(235.95,181.30) scale(1,1.09)" text-anchor="middle" style="font-size:8.6px">80</text>
<text transform="translate(266.70,181.30) scale(1,1.09)" text-anchor="middle" style="font-size:8.6px">100</text>
<text transform="translate(155.30,195.50) scale(1,1.09)" text-anchor="middle" style="font-size:10.3px">&#916;K (MPa/m<tspan dy="-3.9" style="font-size:6.5px">1/2</tspan><tspan dy="3.9">)</tspan></text>
<text transform="translate(19.4,94.4) rotate(-90) scale(1,1.09)" text-anchor="middle" style="font-size:10.6px">da/dN(m/cycle)</text>
<text transform="translate(3.70,13.80) scale(1,1.0)" style="font-size:11.5px">(c)</text>
<rect x="53.15" y="20.20" width="5.6" height="5.6" fill="#fff" stroke="#000" stroke-width="1.9"/>
<text transform="translate(68.70,26.70) scale(1,1.09)" style="font-size:9.8px">R=0.1</text>
<path d="M56.00,31.35L60.20,38.62L51.80,38.62Z" fill="none" stroke="#6a62ff" stroke-width="1.6"/>
<text transform="translate(68.70,39.60) scale(1,1.09)" style="font-size:9.8px">R=0.4</text>
<path d="M80.73,150.20 L80.75,149.87 L80.82,148.94 L80.93,147.54 L81.09,145.82 L81.30,143.93 L81.55,141.96 L81.85,139.99 L82.20,138.05 L82.59,136.18 L83.02,134.37 L83.51,132.64 L84.03,130.98 L84.61,129.39 L85.23,127.86 L85.90,126.40 L86.61,124.99 L87.37,123.63 L88.17,122.31 L89.02,121.04 L89.92,119.81 L90.86,118.61 L91.84,117.45 L92.88,116.31 L93.96,115.20 L95.08,114.11 L96.26,113.05 L97.47,112.01 L98.74,110.98 L100.05,109.97 L101.40,108.98 L102.80,108.00 L104.25,107.03 L105.74,106.07 L107.28,105.13 L108.87,104.19 L110.50,103.26 L112.18,102.34 L113.90,101.42 L115.67,100.51 L117.48,99.61 L119.34,98.70 L121.25,97.81 L123.20,96.91 L125.20,96.02 L127.24,95.13 L129.34,94.25 L131.47,93.36 L133.65,92.48 L135.88,91.59 L138.16,90.71 L140.48,89.82 L142.84,88.94 L145.25,88.05 L147.71,87.16 L150.22,86.27 L152.77,85.38 L155.36,84.48 L158.00,83.59 L160.69,82.69 L163.43,81.79 L166.21,80.88 L169.03,79.97 L171.90,79.06 L174.82,78.15 L177.78,77.23 L180.79,76.30 L183.85,75.38 L186.95,74.45 L190.10,73.51 L193.29,72.57 L196.53,71.62 L199.81,70.67 L203.14,69.71 L206.52,68.75 L209.94,67.79 L213.41,66.81 L216.93,65.83 L220.49,64.85 L224.10,63.86 L227.75,62.86 L231.45,61.86 L235.19,60.85 L238.98,59.84 L242.82,58.82 L246.70,57.79 L250.63,56.76 L254.60,55.72 L258.62,54.67 L262.69,53.61" fill="none" stroke="#5e5e5e" stroke-width="1.5"/>
<path d="M86.02,94.45L89.52,100.51L82.52,100.51Z" fill="none" stroke="#6a62ff" stroke-width="1.15"/>
<path d="M89.55,91.57L93.05,97.63L86.05,97.63Z" fill="none" stroke="#6a62ff" stroke-width="1.15"/>
<path d="M93.60,89.62L97.10,95.68L90.10,95.68Z" fill="none" stroke="#6a62ff" stroke-width="1.15"/>
<path d="M97.88,88.08L101.38,94.14L94.38,94.14Z" fill="none" stroke="#6a62ff" stroke-width="1.15"/>
<path d="M102.27,86.91L105.77,92.97L98.77,92.97Z" fill="none" stroke="#6a62ff" stroke-width="1.15"/>
<path d="M106.74,86.06L110.24,92.12L103.24,92.12Z" fill="none" stroke="#6a62ff" stroke-width="1.15"/>
<path d="M111.23,85.32L114.73,91.38L107.73,91.38Z" fill="none" stroke="#6a62ff" stroke-width="1.15"/>
<path d="M115.74,84.72L119.24,90.78L112.24,90.78Z" fill="none" stroke="#6a62ff" stroke-width="1.15"/>
<path d="M120.19,83.82L123.69,89.89L116.69,89.89Z" fill="none" stroke="#6a62ff" stroke-width="1.15"/>
<path d="M124.60,82.67L128.10,88.73L121.10,88.73Z" fill="none" stroke="#6a62ff" stroke-width="1.15"/>
<path d="M129.02,81.62L132.52,87.68L125.52,87.68Z" fill="none" stroke="#6a62ff" stroke-width="1.15"/>
<path d="M133.45,80.56L136.95,86.62L129.95,86.62Z" fill="none" stroke="#6a62ff" stroke-width="1.15"/>
<path d="M137.88,79.51L141.38,85.57L134.38,85.57Z" fill="none" stroke="#6a62ff" stroke-width="1.15"/>
<path d="M142.31,78.45L145.81,84.51L138.81,84.51Z" fill="none" stroke="#6a62ff" stroke-width="1.15"/>
<path d="M146.73,77.40L150.23,83.46L143.23,83.46Z" fill="none" stroke="#6a62ff" stroke-width="1.15"/>
<path d="M151.16,76.34L154.66,82.40L147.66,82.40Z" fill="none" stroke="#6a62ff" stroke-width="1.15"/>
<path d="M155.59,75.29L159.09,81.35L152.09,81.35Z" fill="none" stroke="#6a62ff" stroke-width="1.15"/>
<path d="M160.02,74.23L163.52,80.29L156.52,80.29Z" fill="none" stroke="#6a62ff" stroke-width="1.15"/>
<path d="M164.45,73.18L167.95,79.24L160.95,79.24Z" fill="none" stroke="#6a62ff" stroke-width="1.15"/>
<path d="M168.87,72.12L172.37,78.18L165.37,78.18Z" fill="none" stroke="#6a62ff" stroke-width="1.15"/>
<path d="M44,114.6L262.7,46.4" stroke="#f00" stroke-width="2.0" fill="none" stroke-dasharray="4.5 3"/>
<rect x="117.52" y="92.18" width="3.7" height="3.7" fill="none" stroke="#000" stroke-width="1.3"/>
<rect x="121.86" y="90.65" width="3.7" height="3.7" fill="none" stroke="#000" stroke-width="1.3"/>
<rect x="126.21" y="89.12" width="3.7" height="3.7" fill="none" stroke="#000" stroke-width="1.3"/>
<rect x="130.56" y="87.61" width="3.7" height="3.7" fill="none" stroke="#000" stroke-width="1.3"/>
<rect x="134.90" y="86.12" width="3.7" height="3.7" fill="none" stroke="#000" stroke-width="1.3"/>
<rect x="139.25" y="84.63" width="3.7" height="3.7" fill="none" stroke="#000" stroke-width="1.3"/>
<rect x="143.60" y="83.16" width="3.7" height="3.7" fill="none" stroke="#000" stroke-width="1.3"/>
<rect x="147.95" y="81.70" width="3.7" height="3.7" fill="none" stroke="#000" stroke-width="1.3"/>
<rect x="152.29" y="80.25" width="3.7" height="3.7" fill="none" stroke="#000" stroke-width="1.3"/>
<rect x="156.64" y="78.82" width="3.7" height="3.7" fill="none" stroke="#000" stroke-width="1.3"/>
<rect x="160.99" y="77.39" width="3.7" height="3.7" fill="none" stroke="#000" stroke-width="1.3"/>
<rect x="165.33" y="75.98" width="3.7" height="3.7" fill="none" stroke="#000" stroke-width="1.3"/>
<rect x="169.68" y="74.58" width="3.7" height="3.7" fill="none" stroke="#000" stroke-width="1.3"/>
<rect x="174.03" y="73.20" width="3.7" height="3.7" fill="none" stroke="#000" stroke-width="1.3"/>
<rect x="178.37" y="71.82" width="3.7" height="3.7" fill="none" stroke="#000" stroke-width="1.3"/>
<rect x="182.72" y="70.46" width="3.7" height="3.7" fill="none" stroke="#000" stroke-width="1.3"/>
<rect x="187.07" y="69.12" width="3.7" height="3.7" fill="none" stroke="#000" stroke-width="1.3"/>
<rect x="191.42" y="67.78" width="3.7" height="3.7" fill="none" stroke="#000" stroke-width="1.3"/>
<rect x="195.76" y="66.46" width="3.7" height="3.7" fill="none" stroke="#000" stroke-width="1.3"/>
<rect x="200.11" y="65.14" width="3.7" height="3.7" fill="none" stroke="#000" stroke-width="1.3"/>
<rect x="204.46" y="63.85" width="3.7" height="3.7" fill="none" stroke="#000" stroke-width="1.3"/>
<rect x="208.80" y="62.56" width="3.7" height="3.7" fill="none" stroke="#000" stroke-width="1.3"/>
<rect x="213.15" y="61.29" width="3.7" height="3.7" fill="none" stroke="#000" stroke-width="1.3"/>
<rect x="217.50" y="60.02" width="3.7" height="3.7" fill="none" stroke="#000" stroke-width="1.3"/>
<rect x="221.84" y="58.78" width="3.7" height="3.7" fill="none" stroke="#000" stroke-width="1.3"/>
<rect x="226.19" y="57.54" width="3.7" height="3.7" fill="none" stroke="#000" stroke-width="1.3"/>
<path d="M44.97,155.07 L44.99,154.60 L45.05,153.29 L45.16,151.42 L45.32,149.26 L45.51,147.00 L45.75,144.77 L46.04,142.62 L46.36,140.57 L46.74,138.64 L47.15,136.81 L47.61,135.08 L48.11,133.44 L48.66,131.89 L49.25,130.41 L49.88,129.00 L50.56,127.65 L51.28,126.35 L52.05,125.10 L52.86,123.89 L53.71,122.73 L54.61,121.60 L55.54,120.50 L56.53,119.42 L57.56,118.38 L58.63,117.35 L59.74,116.35 L60.90,115.37 L62.10,114.40 L63.35,113.45 L64.64,112.51 L65.97,111.58 L67.35,110.67 L68.77,109.76 L70.23,108.86 L71.74,107.98 L73.29,107.10 L74.89,106.22 L76.53,105.35 L78.21,104.48 L79.94,103.62 L81.71,102.77 L83.52,101.91 L85.38,101.06 L87.28,100.21 L89.23,99.35 L91.22,98.51 L93.25,97.66 L95.33,96.81 L97.45,95.96 L99.61,95.11 L101.82,94.26 L104.07,93.40 L106.36,92.55 L108.70,91.69 L111.09,90.83 L113.51,89.97 L115.98,89.11 L118.50,88.24 L121.05,87.37 L123.65,86.50 L126.30,85.62 L128.99,84.74 L131.72,83.85 L134.50,82.96 L137.32,82.07 L140.18,81.17 L143.09,80.27 L146.04,79.36 L149.03,78.45 L152.07,77.53 L155.15,76.60 L158.28,75.68 L161.45,74.74 L164.66,73.80 L167.92,72.86 L171.22,71.90 L174.56,70.95 L177.95,69.98 L181.38,69.01 L184.86,68.04 L188.38,67.05 L191.94,66.06 L195.55,65.07 L199.20,64.07 L202.89,63.06 L206.63,62.04 L210.41,61.02 L214.23,59.99 L218.10,58.95" fill="none" stroke="#0a6ee6" stroke-width="2.2"/>
<path d="M44,102.6L259,35.5" stroke="#f00" stroke-width="2.1" fill="none" stroke-dasharray="10.4 3.9 2.6 4.0"/>
<text transform="translate(111.90,51.70) scale(1,1.09)" style="font-size:8.7px;fill:#f00;stroke:#f00">BS7910 for BM</text>
<text transform="translate(179.80,37.30) scale(1,1.09)" style="font-size:8.7px;fill:#f00;stroke:#f00">BS7910 for WM</text>
<path d="M151.30,55.50L165.84,60.81" stroke="#f00" stroke-width="1.4" fill="none"/><path d="M170.95,62.67L163.67,62.78L165.84,60.81L165.46,57.90Z" fill="#f00"/>
<path d="M221.20,41.30L241.48,47.79" stroke="#f00" stroke-width="1.4" fill="none"/><path d="M246.66,49.44L239.39,49.85L241.48,47.79L240.98,44.90Z" fill="#f00"/>
<text transform="translate(47.10,163.15) scale(1,1.09)" style="font-size:8.7px;fill:#f00;stroke:#f00">Nasgro fitting R=0.4</text>
<text transform="translate(109.06,147.56) scale(1,1.09)" style="font-size:8.7px;fill:#f00;stroke:#f00">Nasgro fitting R=0.1</text>
<path d="M48.31,141.29L62.98,146.48" stroke="#f00" stroke-width="1.4" fill="none"/><path d="M68.11,148.29L60.83,148.48L62.98,146.48L62.56,143.57Z" fill="#f00"/>
<path d="M85.46,135.76L100.09,140.43" stroke="#f00" stroke-width="1.4" fill="none"/><path d="M105.27,142.09L98.00,142.49L100.09,140.43L99.58,137.54Z" fill="#f00"/>
<text transform="translate(250.20,151.40) scale(1,1.0)" text-anchor="end" style="font-size:10px">FZ</text>
<text transform="translate(254.60,164.00) scale(1,1.09)" text-anchor="end" style="font-size:8.7px">D32 structual steel</text></g>
</svg>
</body></html>
